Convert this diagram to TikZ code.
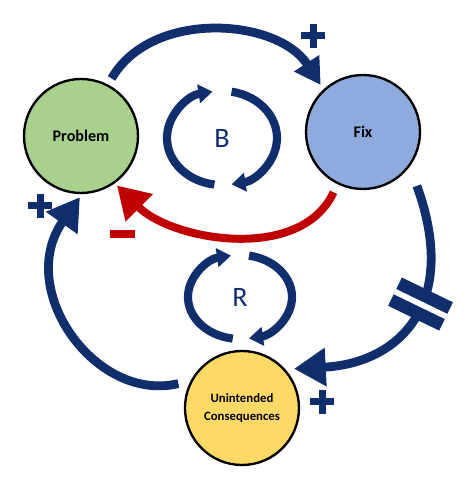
\documentclass[tikz,border=0pt]{standalone}
\usepackage{fontspec}
\setmainfont{Carlito}
\usepackage{tikz}
\usetikzlibrary{arrows.meta,calc}
\definecolor{loopnavy}{HTML}{112E6C}
\definecolor{sidered}{HTML}{C00000}
\definecolor{probgreen}{HTML}{A9D18E}
\definecolor{fixblue}{HTML}{8FAADC}
\definecolor{uncyellow}{HTML}{FFD966}

\begin{document}
\begin{tikzpicture}[x=0.03cm, y=0.03cm,
  var/.style={circle, draw=black, line width=2pt, minimum size=3.42cm, inner sep=0pt,
    font=\bfseries\fontsize{13.8}{16}\selectfont, align=center},
  link/.style={line width=7.5pt, draw=loopnavy, -{Triangle[width=1.1cm,length=0.95cm]}},
  loopline/.style={line width=7pt, draw=loopnavy, -{Triangle[width=0.55cm,length=0.42cm]}},
  looplabel/.style={text=loopnavy, font=\fontsize{24}{28}\selectfont},
  delaymark/.style={sloped, minimum width=0.68cm, minimum height=1.44cm, inner sep=0pt},
  polplus/.pic={\fill[loopnavy] (-12,-3.5) rectangle (12,3.5);
    \fill[loopnavy] (-3.5,-12) rectangle (3.5,12);},
  polminus/.pic={\fill[sidered] (-12.5,-4) rectangle (12.5,4);}
]
\useasboundingbox (0,0) rectangle (474,485);

% fixes that fail: balancing loop B and reinforcing loop R
\node[var, fill=probgreen] (prob) at (81,349) {Problem};
\node[var, fill=fixblue] (fix) at (363,353) {Fix};
\node[var, fill=uncyellow, font=\bfseries\fontsize{10.9}{15}\selectfont] (unint) at (242,77)
  {Unintended\\Consequences};

\draw[link, -{Triangle[width=0.85cm,length=0.78cm]}] ([shift={(62:7)}]prob.62)
  .. controls +(60:80) and +(123:80) .. ([shift={(132:5)}]fix.132);
\draw[link, draw=sidered, line width=6.8pt] ([shift={(244:9)}]fix.244)
  .. controls +(-115:78) and +(-45:78) .. ([shift={(-54:3)}]prob.-54);
\draw[link] ([shift={(-45:18)}]fix.-45)
  .. controls +(-70:126) and +(3:105) .. ([shift={(37:7)}]unint.37)
  node[delaymark, pos=0.42] (dly) {};
\draw[link] ([shift={(159:10)}]unint.159)
  .. controls +(193.5:85) and +(234.8:113) .. ([shift={(269:3)}]prob.269);

% delay bars
\fill[loopnavy] (dly.north west) -- (dly.north east) -- (dly.south east) -- (dly.south west) -- cycle;
\fill[white] ($(dly.north west)!0.41!(dly.north east)$) -- ($(dly.north west)!0.59!(dly.north east)$)
  -- ($(dly.south west)!0.59!(dly.south east)$) -- ($(dly.south west)!0.41!(dly.south east)$) -- cycle;

\node[looplabel] (bl) at (222,347) {B};
\draw[loopline] ([shift={(262:55 and 47)}]bl.center) arc[start angle=262, end angle=100, x radius=55, y radius=47];
\draw[loopline] ([shift={(80:55 and 47)}]bl.center) arc[start angle=80, end angle=-80, x radius=55, y radius=47];

\node[looplabel] (rl) at (240,188) {R};
\draw[loopline] ([shift={(262:52 and 42)}]rl.center) arc[start angle=262, end angle=100, x radius=52, y radius=42];
\draw[loopline] ([shift={(80:52 and 42)}]rl.center) arc[start angle=80, end angle=-80, x radius=52, y radius=42];

\pic at (313,449) {polplus};
\pic at (40,279) {polplus};
\pic at (322,83) {polplus};
\pic at (122,251) {polminus};
\end{tikzpicture}
\end{document}
